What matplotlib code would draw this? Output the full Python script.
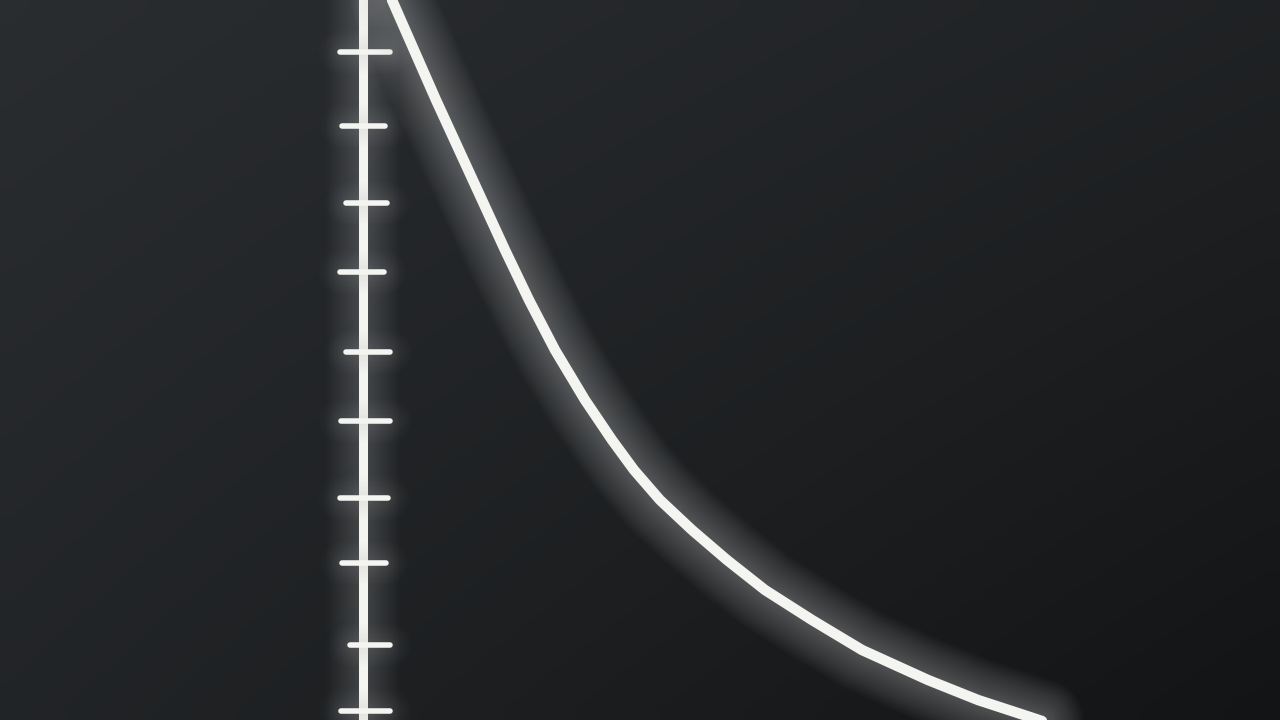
import numpy as np
from matplotlib import pyplot as plt

# chalk curve (x to the right, y downward)
curve_x = [392, 414, 436, 459, 482, 505, 529, 555, 585, 612, 634, 660,
           692, 727, 765, 812, 862, 928, 978, 1030, 1048]
curve_y = [0, 50, 100, 150, 200, 250, 300, 350, 400, 440, 470, 500,
           530, 560, 590, 620, 650, 680, 700, 717, 723]

# vertical axis and its tick marks
axis_x = 363
tick_y = [52, 126, 203, 272, 352, 421, 498, 563, 645, 711]
tick_left = [340, 342, 346, 340, 346, 341, 340, 342, 350, 341]
tick_right = [390, 385, 387, 384, 390, 390, 388, 386, 390, 390]

CHALK = '#f4f4f0'
BOARD = '#2a2d30'


def chalk_line(ax, xs, ys, lw, glow=1.0):
    # soft glow under the chalk stroke, many thin layers so it fades evenly
    for w in np.linspace(lw * 1.3, lw * 8, 16):
        ax.plot(xs, ys, color='#d8dadc', lw=w, alpha=0.022 * glow,
                solid_capstyle='round', solid_joinstyle='round')
    ax.plot(xs, ys, color=CHALK, lw=lw, solid_capstyle='round',
            solid_joinstyle='round')


fig = plt.figure(figsize=(12.8, 7.2), dpi=100, facecolor=BOARD)
ax = fig.add_axes([0, 0, 1, 1])
ax.set_facecolor(BOARD)

# darker toward the bottom right corner
gx, gy = np.meshgrid(np.linspace(0, 1, 64), np.linspace(0, 1, 36))
shade = np.zeros((36, 64, 4))
shade[..., 3] = np.clip(0.25 * gx + 0.2 * gy + 0.1 * gx * gy, 0, 1)
ax.imshow(shade, extent=[0, 1280, 720, 0], aspect='auto', zorder=0,
          interpolation='bilinear')

chalk_line(ax, [axis_x, axis_x], [-5, 725], 6.5, glow=0.7)
for y, l, r in zip(tick_y, tick_left, tick_right):
    chalk_line(ax, [l, r], [y, y], 4, glow=0.3)

chalk_line(ax, curve_x, curve_y, 7.5)

ax.set_xlim(0, 1280)
ax.set_ylim(720, 0)
plt.axis('off')
fig.savefig('out.png', dpi=100, facecolor=BOARD)
